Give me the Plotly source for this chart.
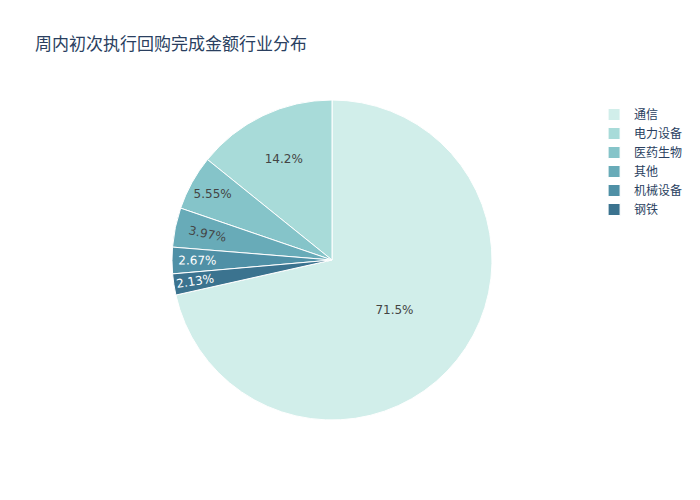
import plotly.graph_objects as go

# industry share of completed buyback amount this week
industries = ["通信", "电力设备", "医药生物", "其他", "机械设备", "钢铁"]
shares = [71.5, 14.2, 5.55, 3.97, 2.67, 2.13]

colors = [
    "rgb(209, 238, 234)",
    "rgb(168, 219, 217)",
    "rgb(133, 196, 201)",
    "rgb(104, 171, 184)",
    "rgb(79, 144, 166)",
    "rgb(59, 115, 143)",
]

fig = go.Figure(data=[go.Pie(
    labels=industries,
    values=shares,
    marker=dict(colors=colors, line=dict(color="white", width=1)),
    textinfo="percent",
    textposition="inside",
)])

fig.update_layout(
    title_text="周内初次执行回购完成金额行业分布",
    font=dict(family="DejaVu Sans, Noto Sans CJK SC"),
    width=700,
    height=500,
    paper_bgcolor="white",
)
# drop the browser's default page margin so the figure sits at the corner
fig.write_html(
    "out.html",
    config={"displayModeBar": False},
    post_script="document.body.style.margin='0';",
)
